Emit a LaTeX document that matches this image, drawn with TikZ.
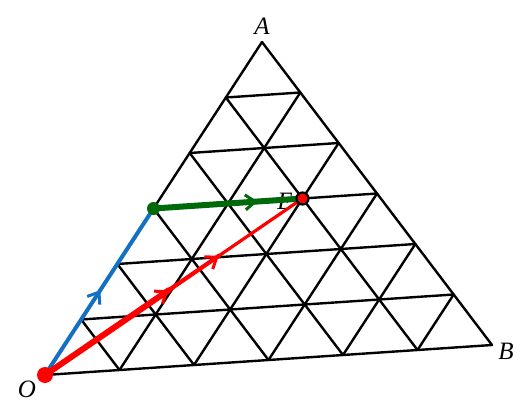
\documentclass[tikz,border=0pt]{standalone}
\usepackage{fontspec}
\setmainfont{Liberation Serif}
\usetikzlibrary{arrows.meta,decorations.markings,calc}
\definecolor{myblue}{RGB}{20,112,192}
\definecolor{mygreen}{RGB}{0,105,10}
\definecolor{myred}{RGB}{255,0,0}
\begin{document}
\begin{tikzpicture}[x=1pt,y=-1pt,
  gridline/.style={line width=2.4pt,black,line cap=round,line join=round},
  lbl/.style={font=\fontsize{25}{25}\selectfont\itshape,inner sep=0pt},
  tipmark/.style={postaction={decorate},decoration={markings,mark=at position #1 with {\arrow{Straight Barb[length=10pt,width=15pt,line width=3pt]}}}},
  vec/.style={line width=#1,line cap=round}]
\useasboundingbox (0,0) rectangle (530,409);
\coordinate (O) at (45,375);
\coordinate (A) at (262,42);
\coordinate (B) at (492,345);
\foreach \i in {0,...,6}{\foreach \j in {0,...,6}{
  \coordinate (P\i\j) at ({45+\i*447/6+\j*217/6},{375-\i*5-\j*55.5});}}
\foreach \k in {0,...,5}{
  \pgfmathtruncatemacro\m{6-\k}
  \draw[gridline] (P0\k) -- (P\m\k);
  \draw[gridline] (P\k0) -- (P\k\m);}
\foreach \k in {1,...,6}{\draw[gridline] (P\k0) -- (P0\k);}
\coordinate (G) at (P03);
\coordinate (E) at (P23);
\coordinate (M1) at ($(O)!0.48!(E)$);
\coordinate (M2) at ($(O)!0.675!(E)$);
% labels
\node[lbl] (lA) at (262,26) {A};
\node[lbl] (lB) at (506,351) {B};
\node[lbl] (lO) at (27,389) {O};
\node[lbl] (lE) at (285,201) {E};
% blue
\draw[vec=4pt,myblue,tipmark=0.51] (O) -- (G);
% red
\draw[vec=3.2pt,myred] (M2) -- (E);
\draw[vec=4.2pt,myred,tipmark=1] (M1) -- (M2);
\draw[vec=6pt,myred,tipmark=1] (O) -- (M1);
% green
\draw[vec=6pt,mygreen,tipmark=0.7] (G) -- (E);
% dots
\fill[mygreen] (G) circle (6.5pt);
\fill[myred] (O) circle (8pt);
\filldraw[myred,draw=black,line width=2.2pt] (E) circle (6pt);
\end{tikzpicture}
\end{document}
